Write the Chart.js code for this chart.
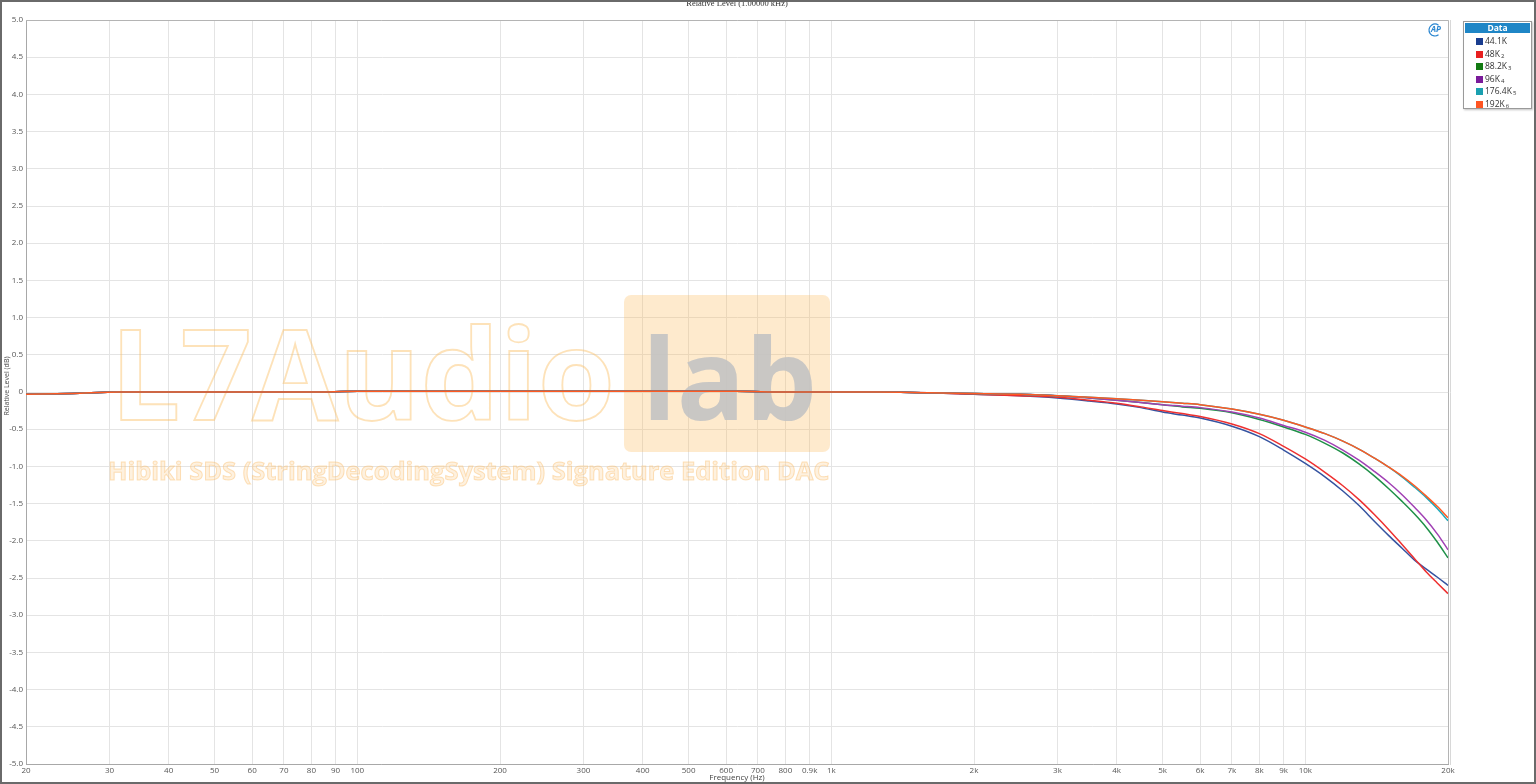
<!DOCTYPE html>
<html>
<head>
<meta charset="utf-8">
<title>Relative Level (1.00000 kHz)</title>
<script src="https://cdn.jsdelivr.net/npm/chart.js@4.4.1/dist/chart.umd.min.js"></script>
<style>
  html, body { margin: 0; padding: 0; background: #fff; }
  #wrap { position: relative; width: 1536px; height: 784px; overflow: hidden; }
  #chart { position: absolute; left: 0; top: 0; }
  #legend {
    position: absolute; left: 1463px; top: 21px; width: 69px; height: 88px;
    border: 1px solid #9a9a9a; background: #fff; box-sizing: border-box;
    box-shadow: 1px 1px 2px rgba(0,0,0,0.25);
    font-family: "Open Sans", sans-serif; font-size: 8.5px; color: #333;
  }
  #legend .head {
    background: #1f86c6; color: #fff; font-weight: bold; text-align: center;
    height: 10px; line-height: 10px; margin: 1px 1px 2px 1px;
  }
  #legend .row { position: relative; height: 12.6px; line-height: 12.6px; padding-left: 21px; white-space: nowrap; }
  #legend .sw { position: absolute; left: 12px; top: 3px; width: 7px; height: 7px; }
  #legend sub { font-size: 6px; vertical-align: -1px; margin-left: 1px; }
</style>
</head>
<body>
<div id="wrap">
  <canvas id="chart" width="1536" height="784"></canvas>
  <div id="legend"><div class="head">Data</div></div>
</div>
<script>
// frequency points (Hz)
const freqs = [20, 25, 31.5, 40, 50, 63, 80, 100, 125, 160, 200, 250, 315, 400, 500, 630, 800,
  1000, 1250, 1600, 2000, 2500, 3000, 3500, 4000, 4500, 5000, 5500, 6000, 7000, 8000, 9000,
  10000, 11000, 12000, 13000, 14000, 15000, 16000, 17000, 18000, 19000, 20000];

// relative level (dB)
const level441 = [-0.03, -0.02, 0, 0, 0, 0, 0, 0.01, 0.01, 0.01, 0.01, 0.01, 0.01, 0.01, 0.01, 0.01, 0,
  0, 0, -0.01, -0.03, -0.05, -0.08, -0.12, -0.16, -0.21, -0.27, -0.31, -0.35, -0.46, -0.60, -0.78,
  -0.96, -1.14, -1.33, -1.53, -1.74, -1.93, -2.10, -2.26, -2.38, -2.49, -2.60];
const level48 = [-0.03, -0.02, 0, 0, 0, 0, 0, 0.01, 0.01, 0.01, 0.01, 0.01, 0.01, 0.01, 0.01, 0.01, 0,
  0, 0, -0.01, -0.03, -0.05, -0.07, -0.11, -0.15, -0.20, -0.25, -0.29, -0.33, -0.43, -0.56, -0.73,
  -0.90, -1.08, -1.26, -1.45, -1.65, -1.85, -2.05, -2.24, -2.42, -2.57, -2.71];
const level882 = [-0.03, -0.02, 0, 0, 0, 0, 0, 0.01, 0.01, 0.01, 0.01, 0.01, 0.01, 0.01, 0.01, 0.01, 0,
  0, 0, -0.01, -0.02, -0.03, -0.05, -0.08, -0.11, -0.14, -0.17, -0.20, -0.22, -0.28, -0.37, -0.47,
  -0.57, -0.69, -0.82, -0.97, -1.13, -1.30, -1.47, -1.64, -1.82, -2.02, -2.23];
const level96 = [-0.03, -0.02, 0, 0, 0, 0, 0, 0.01, 0.01, 0.01, 0.01, 0.01, 0.01, 0.01, 0.01, 0.01, 0,
  0, 0, -0.01, -0.02, -0.03, -0.05, -0.08, -0.11, -0.14, -0.17, -0.19, -0.21, -0.27, -0.35, -0.45,
  -0.54, -0.65, -0.78, -0.92, -1.07, -1.22, -1.38, -1.55, -1.72, -1.91, -2.12];
const level1764 = [-0.03, -0.02, 0, 0, 0, 0, 0, 0.01, 0.01, 0.01, 0.01, 0.01, 0.01, 0.01, 0.01, 0.01, 0,
  0, 0, -0.01, -0.02, -0.03, -0.05, -0.07, -0.09, -0.11, -0.13, -0.15, -0.17, -0.23, -0.30, -0.38,
  -0.47, -0.56, -0.66, -0.77, -0.89, -1.01, -1.14, -1.28, -1.42, -1.57, -1.73];
const level192 = [-0.03, -0.02, 0, 0, 0, 0, 0, 0.01, 0.01, 0.01, 0.01, 0.01, 0.01, 0.01, 0.01, 0.01, 0,
  0, 0, -0.01, -0.02, -0.03, -0.05, -0.07, -0.09, -0.11, -0.13, -0.15, -0.17, -0.23, -0.30, -0.38,
  -0.47, -0.56, -0.66, -0.77, -0.89, -1.01, -1.13, -1.26, -1.40, -1.54, -1.69];

const seriesNames = ['44.1K', '48K', '88.2K', '96K', '176.4K', '192K'];
const seriesLevels = [level441, level48, level882, level96, level1764, level192];
const seriesColors = ['#3553a0', '#ee3030', '#1f9048', '#a040b4', '#1ea9ba', '#ff5a22'];
const swatchColors = ['#1a3d8f', '#e82020', '#127a12', '#7a1a9a', '#1aa0b0', '#ff5522'];

// axis ticks
const xTickValues = [20, 30, 40, 50, 60, 70, 80, 90, 100, 200, 300, 400, 500, 600, 700, 800, 900,
  1000, 2000, 3000, 4000, 5000, 6000, 7000, 8000, 9000, 10000, 20000];
const xTickLabels = ['20', '30', '40', '50', '60', '70', '80', '90', '100', '200', '300', '400', '500',
  '600', '700', '800', '0.9k', '1k', '2k', '3k', '4k', '5k', '6k', '7k', '8k', '9k', '10k', '20k'];
const yTickValues = [-5, -4.5, -4, -3.5, -3, -2.5, -2, -1.5, -1, -0.5, 0, 0.5, 1, 1.5, 2, 2.5, 3, 3.5, 4, 4.5, 5];
const yTickLabels = ['-5.0', '-4.5', '-4.0', '-3.5', '-3.0', '-2.5', '-2.0', '-1.5', '-1.0', '-0.5', '0',
  '0.5', '1.0', '1.5', '2.0', '2.5', '3.0', '3.5', '4.0', '4.5', '5.0'];

// legend (html)
const legendEl = document.getElementById('legend');
seriesNames.forEach(function(name, i) {
  const row = document.createElement('div');
  row.className = 'row';
  row.innerHTML = '<span class="sw" style="background:' + swatchColors[i] + '"></span>' + name +
    (i > 0 ? '<sub>' + (i + 1) + '</sub>' : '');
  legendEl.appendChild(row);
});

function fitFont(ctx, text, width, weight, family) {
  ctx.font = weight + ' 100px ' + family;
  const w = ctx.measureText(text).width;
  ctx.font = weight + ' ' + (100 * width / w).toFixed(2) + 'px ' + family;
}

// watermark under the curves
const watermark = {
  id: 'watermark',
  beforeDatasetsDraw(chart) {
    const ctx = chart.ctx;
    ctx.save();
    ctx.textBaseline = 'alphabetic';
    ctx.textAlign = 'left';

    fitFont(ctx, 'L7Audio', 505, 'bold', '"Open Sans"');
    ctx.lineWidth = 1.8;
    ctx.strokeStyle = 'rgba(250, 190, 100, 0.45)';
    ctx.strokeText('L7Audio', 110, 420);

    ctx.fillStyle = 'rgba(251, 190, 100, 0.32)';
    ctx.beginPath();
    ctx.roundRect(624, 295, 206, 157, 7);
    ctx.fill();

    fitFont(ctx, 'lab', 175, 'bold', '"Open Sans"');
    ctx.fillStyle = 'rgba(195, 195, 195, 0.9)';
    ctx.fillText('lab', 642, 420);

    const sub = 'Hibiki SDS (StringDecodingSystem) Signature Edition DAC';
    fitFont(ctx, sub, 722, 'bold', '"Open Sans"');
    ctx.fillStyle = 'rgba(252, 210, 150, 0.3)';
    ctx.fillText(sub, 108, 480);
    ctx.lineWidth = 1;
    ctx.strokeStyle = 'rgba(250, 190, 110, 0.45)';
    ctx.strokeText(sub, 108, 480);
    ctx.restore();
  }
};

// titles, frame, logo
const decor = {
  id: 'decor',
  beforeDraw(chart) {
    const ctx = chart.ctx;
    ctx.save();
    ctx.fillStyle = '#fff';
    ctx.fillRect(0, 0, chart.width, chart.height);
    ctx.restore();
  },
  afterDraw(chart) {
    const ctx = chart.ctx;
    const a = chart.chartArea;
    ctx.save();
    ctx.strokeStyle = '#b4b4b4';
    ctx.lineWidth = 1;
    ctx.beginPath();
    ctx.moveTo(a.left, a.top + 0.5);
    ctx.lineTo(a.right + 0.5, a.top + 0.5);
    ctx.lineTo(a.right + 0.5, a.bottom);
    ctx.stroke();
    ctx.strokeStyle = '#d8d8d8';
    ctx.beginPath();
    ctx.moveTo(a.right + 2.5, a.top);
    ctx.lineTo(a.right + 2.5, a.bottom + 1);
    ctx.stroke();

    ctx.fillStyle = '#333';
    ctx.textAlign = 'center';
    ctx.textBaseline = 'middle';
    ctx.font = '8.5px "Liberation Serif"';
    ctx.fillText('Relative Level (1.00000 kHz)', (a.left + a.right) / 2, 4);

    ctx.font = '8px "Open Sans"';
    ctx.fillStyle = '#444';
    ctx.fillText('Frequency (Hz)', (a.left + a.right) / 2, 778);
    ctx.save();
    ctx.translate(7, (a.top + a.bottom) / 2 - 6);
    ctx.rotate(-Math.PI / 2);
    ctx.font = '7px "Open Sans"';
    ctx.fillText('Relative Level (dB)', 0, 0);
    ctx.restore();

    // AP logo
    ctx.strokeStyle = '#2a86d0';
    ctx.fillStyle = '#2a86d0';
    ctx.lineWidth = 1.2;
    ctx.beginPath();
    ctx.arc(1435, 30, 6, Math.PI * 0.3, Math.PI * 1.7);
    ctx.stroke();
    ctx.font = 'italic bold 8px "Open Sans"';
    ctx.fillText('AP', 1436, 30);

    // outer border
    ctx.strokeStyle = '#6a6a6a';
    ctx.lineWidth = 2;
    ctx.strokeRect(1, 1, chart.width - 2, chart.height - 2);
    ctx.restore();
  }
};

const datasets = seriesNames.map(function(name, i) {
  return {
    label: name,
    data: freqs.map(function(f, k) { return { x: f, y: seriesLevels[i][k] }; }),
    borderColor: seriesColors[i],
    backgroundColor: seriesColors[i],
    borderWidth: 1.5,
    pointRadius: 0,
    cubicInterpolationMode: 'monotone',
    fill: false,
    order: seriesNames.length - i
  };
});

new Chart(document.getElementById('chart'), {
  type: 'line',
  data: { datasets: datasets },
  options: {
    responsive: false,
    animation: false,
    devicePixelRatio: 1,
    layout: { padding: { left: 0, right: 88, top: 20, bottom: 0 } },
    plugins: {
      legend: { display: false },
      title: { display: false },
      tooltip: { enabled: false }
    },
    scales: {
      x: {
        type: 'logarithmic',
        min: 20,
        max: 20000,
        afterBuildTicks: function(scale) {
          scale.ticks = xTickValues.map(function(v) { return { value: v }; });
        },
        afterFit: function(scale) { scale.height = 20; },
        ticks: {
          autoSkip: false,
          maxRotation: 0,
          minRotation: 0,
          padding: 2,
          color: '#555',
          font: { family: '"Open Sans"', size: 8 },
          callback: function(value, index) { return xTickLabels[index]; }
        },
        grid: { color: '#e4e4e4', lineWidth: 1, drawTicks: false },
        border: { color: '#a8a8a8', width: 1 }
      },
      y: {
        type: 'linear',
        min: -5,
        max: 5,
        afterBuildTicks: function(scale) {
          scale.ticks = yTickValues.map(function(v) { return { value: v }; });
        },
        afterFit: function(scale) { scale.width = 26; },
        ticks: {
          autoSkip: false,
          padding: 3,
          color: '#555',
          font: { family: '"Open Sans"', size: 8 },
          callback: function(value, index) { return yTickLabels[index]; }
        },
        grid: { color: '#e4e4e4', lineWidth: 1, drawTicks: false },
        border: { color: '#a8a8a8', width: 1 }
      }
    }
  },
  plugins: [decor, watermark]
});
</script>
</body>
</html>
